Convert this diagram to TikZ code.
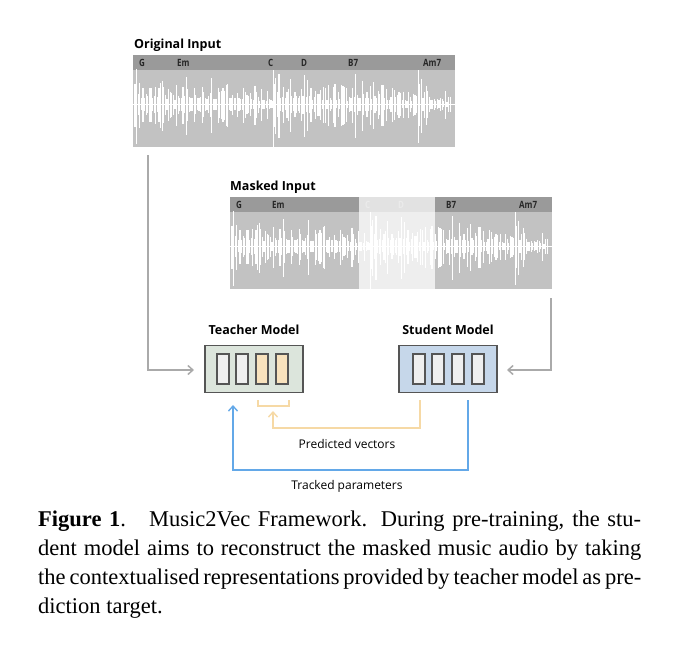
\documentclass[tikz,border=0pt]{standalone}
\usepackage{fontspec}
\setmainfont{Liberation Serif}
\newfontfamily\uifont{Open Sans}
\newfontfamily\chordfont{Open Sans}[FakeStretch=0.8]
\usetikzlibrary{arrows.meta}
\definecolor{hdr}{HTML}{9A9A9A}
\definecolor{wav}{HTML}{C2C2C2}
\definecolor{tfill}{HTML}{DCE5DC}
\definecolor{sfill}{HTML}{C6D7EA}
\definecolor{barg}{HTML}{EFEFEF}
\definecolor{baro}{HTML}{F8E2BD}
\definecolor{orng}{HTML}{F6D9A5}
\definecolor{blu}{HTML}{63A8E8}
\definecolor{edge}{HTML}{555555}
\definecolor{arrg}{HTML}{AAAAAA}
\newcommand{\mywave}[2]{%
  \pgfmathsetseed{11}%
  \fill[wav] (#1,#2+15) rectangle (#1+322,#2+92);
  \fill[hdr] (#1,#2) rectangle (#1+322,#2+15);
  \foreach \i in {2,3.6,...,318}{%
    \pgfmathsetmacro\env{ (\i<45) ? (1-\i/90) : ((\i<140) ? (1-(\i-45)/160) : ((\i<215) ? (1-(\i-140)/130) : ((\i<285) ? (0.95-(\i-215)/120) : (0.7-(\i-285)/70)))) }%
    \pgfmathsetmacro\r{rnd}%
    \pgfmathsetmacro\h{(5+34*\r*\r)*\env+1}%
    \draw[white,line width=1.1pt] (#1+\i,#2+49-\h) -- (#1+\i,#2+49+1.15*\h);
  }
  \draw[white,line width=0.8pt] (#1,#2+49) -- (#1+322,#2+49);
  \draw[white,line width=1pt] (#1+140,#2+15) -- (#1+140,#2+100);
  \draw[white,line width=1pt] (#1+285,#2+15) -- (#1+285,#2+88);
}
\tikzset{
  chord/.style={font=\chordfont\bfseries\fontsize{10}{10}\selectfont, text=black!85, inner sep=0pt, anchor=west},
  title/.style={font=\uifont\bfseries\fontsize{12.5}{14}\selectfont, inner sep=0pt},
  model/.style={draw=edge, line width=1.8pt, minimum width=98pt, minimum height=47pt, inner sep=0pt},
  cell/.style={draw=edge, line width=1.3pt, minimum width=12pt, minimum height=30pt, inner sep=0pt},
  lbl/.style={font=\uifont\fontsize{12}{14}\selectfont, inner sep=0pt},
  garr/.style={draw=arrg, line width=1.5pt, -{Straight Barb[length=5pt,width=9pt]}},
}
\begin{document}
\begin{tikzpicture}[x=1pt,y=-1pt]
\useasboundingbox (0,0) rectangle (678,662);
% original input
\node[title,anchor=west] (otitle) at (134,45) {Original Input};
\mywave{133}{55}
\foreach \x/\c in {139/G,177/Em,268/C,301/D,348/B7,423/Am7}{\node[chord] at (\x,62.5) {\c};}
\coordinate (obot) at (148,155);
% masked input
\node[title,anchor=west] (mtitle) at (230,187) {Masked Input};
\mywave{230}{197}
\foreach \x/\c in {236/G,272/Em,446/B7,519/Am7}{\node[chord] at (\x,204.5) {\c};}
\fill[white,opacity=0.72] (359,197) rectangle (435,289);
\foreach \x/\c in {365/C,398/D}{\node[chord,text=black!8] at (\x,204.5) {\c};}
\coordinate (mbot) at (551,298);
% models
\node[title] (tt) at (254,330) {Teacher Model};
\node[title] (st) at (448,330) {Student Model};
\node[model,fill=tfill] (teacher) at (254,369) {};
\node[model,fill=sfill] (student) at (448,369) {};
\foreach \k/\x/\f in {1/223/barg,2/242/barg,3/262/baro,4/282/baro}{\node[cell,fill=\f] (t\k) at (\x,369) {};}
\foreach \k/\x in {1/419,2/438,3/458,4/478}{\node[cell,fill=barg] (s\k) at (\x,369) {};}
% gray arrows
\coordinate (tin) at (194,370);
\coordinate (sin) at (507,370);
\draw[garr] (obot) |- (tin);
\draw[garr] (mbot) |- (sin);
% orange bracket and arrow
\draw[orng,line width=1.4pt] (258,400) -- (258,406) -- (289,406) -- (289,400);
\coordinate (oa) at (420,400);
\draw[orng,line width=1.4pt,-{Straight Barb[length=5pt,width=9pt]}] (oa) |- (273,428) -- (273,411);
\node[lbl] (pv) at (347,444) {Predicted vectors};
% blue arrow
\coordinate (ba) at (468,400);
\draw[blu,line width=1.4pt,-{Straight Barb[length=5pt,width=9pt]}] (ba) |- (233,470) -- (233,405);
\node[lbl] (tp) at (347,486) {Tracked parameters};
% caption
\node[anchor=north west,inner sep=0pt,text width=603pt,align=justify,font=\fontsize{22.5}{29}\selectfont] (cap) at (38,511)
{\textbf{Figure 1}.\ \ \ Music2Vec Framework. During pre-training, the student model aims to reconstruct the masked mu\-sic audio by taking the contextualised representations pro\-vided by teacher model as prediction target.};
\end{tikzpicture}
\end{document}
